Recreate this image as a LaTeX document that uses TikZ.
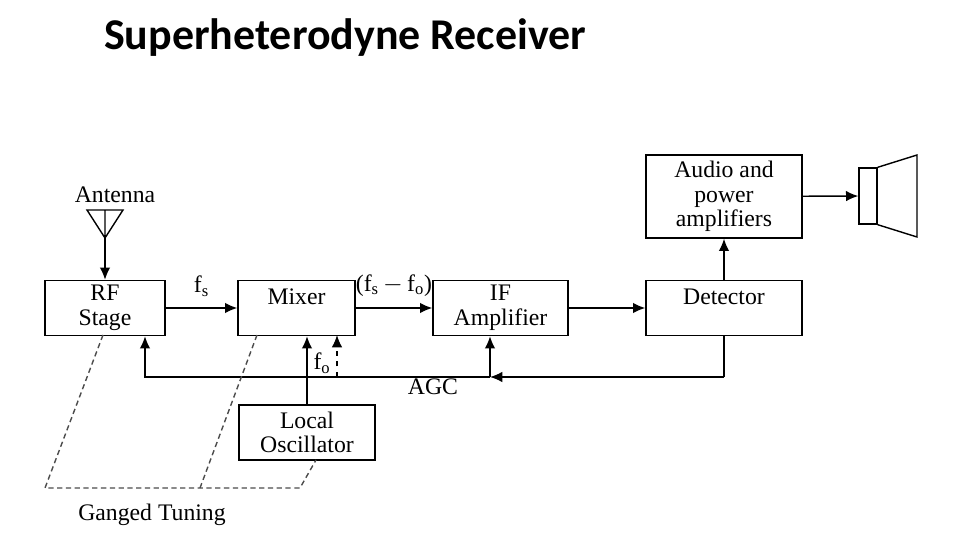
\documentclass[tikz,border=0pt]{standalone}
\usepackage{fontspec}
\setmainfont{Liberation Serif}
\newfontfamily\titlefont{Carlito}
\usetikzlibrary{positioning,arrows.meta}
\tikzset{txt/.style={font=\fontsize{13.5}{14}\selectfont},
	block/.style={draw,thick,minimum width=#1,align=center,inner sep=0pt,txt},
	sig/.style={-{Latex[length=7pt,width=6pt]},thick},
	gang/.style={thick,dash pattern=on 3pt off 2pt,gray!60!black}}
\begin{document}
\begin{tikzpicture}[x=0.02cm,y=-0.02cm]
	\useasboundingbox (0,0) rectangle (964,540);
	\node[anchor=west,font=\titlefont\bfseries\fontsize{25}{30}\selectfont] (title) at (98,38) {Superheterodyne Receiver};
	% blocks
	\node[block=2.4cm,minimum height=1.1cm] (rf) at (105,308) {RF\\Stage};
	\node[block=2.34cm,minimum height=1.1cm] (mix) at (296.5,308) {};
	\node[txt] (mixT) at (296.5,297) {Mixer};
	\node[block=2.7cm,minimum height=1.1cm] (if) at (500.5,308) {IF\\Amplifier};
	\node[block=3.12cm,minimum height=1.1cm] (det) at (724,308) {};
	\node[txt] (detT) at (724,297) {Detector};
	\node[block=3.12cm,minimum height=1.66cm] (aud) at (724,196.5) {Audio and\\power\\amplifiers};
	\node[block=2.72cm,minimum height=1.1cm] (lo) at (307,432.5) {Local\\Oscillator};
	% antenna and speaker
	\coordinate (apex) at (105,238);
	\draw[thick] (87,210) -- (123,210) -- (apex) -- cycle (105,210) -- (apex);
	\node[txt] (ant) at (115,195) {Antenna};
	\draw[sig] (apex) -- (rf.north);
	\node[draw,thick,minimum width=0.36cm,minimum height=1.12cm,inner sep=0pt] (spk) at (868,196) {};
	\draw[thick] (spk.north east) -- (917,155) -- (917,237) -- (spk.south east);
	% signal path
	\draw[sig] (rf) -- node[above=3pt,txt] {f$_\mathrm{s}$} (mix);
	\draw[sig] (mix) -- node[above=3pt,txt] {(f$_\mathrm{s}\,{-}\,$f$_\mathrm{o}$)} (if);
	\draw[sig] (if) -- (det);
	\draw[sig] (det) -- (aud);
	\draw[sig] (aud) -- (spk);
	\draw[sig] (lo.north) -- node[right,pos=0.6,txt] {f$_\mathrm{o}$} (lo.north |- mix.south);
	% AGC loop
	\coordinate (agcR) at (724,377);
	\coordinate (agcIF) at (490,377);
	\coordinate (agcL) at (145,377);
	\draw[thick] (det.south) -- (agcR);
	\draw[sig] (agcR) -- (agcIF);
	\draw[sig] (agcIF) -- (agcL) -- (agcL |- rf.south);
	\draw[sig] (agcIF) -- (agcIF |- if.south);
	\draw[sig,dashed] (337,377) -- (337,335);
	\node[txt] (agc) at (433,387) {AGC};
	% ganged tuning
	\coordinate (g1) at (45,488);
	\coordinate (g2) at (200,488);
	\coordinate (g3) at (300,488);
	\draw[gang] (103,335) -- (g1) -- (g3) -- (316,460);
	\draw[gang] (257,335) -- (g2);
	\node[txt] (gt) at (152,515) {Ganged Tuning};
\end{tikzpicture}
\end{document}
